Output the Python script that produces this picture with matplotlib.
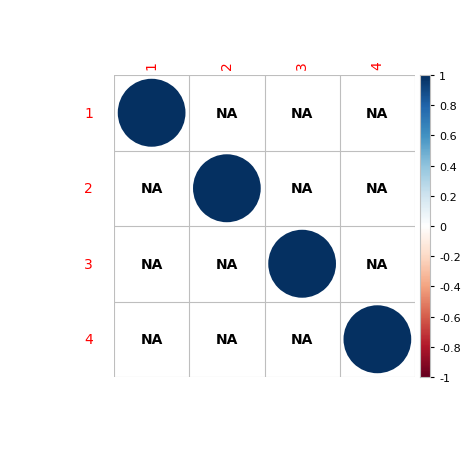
import matplotlib.pyplot as plt
import matplotlib.colors as mcolors
from matplotlib.patches import Circle
import numpy as np

labels = ["1", "2", "3", "4"]
corr = [[1, None, None, None],
        [None, 1, None, None],
        [None, None, 1, None],
        [None, None, None, 1]]
cbar_ticks = [-1, -0.8, -0.6, -0.4, -0.2, 0, 0.2, 0.4, 0.6, 0.8, 1]

colors = ["#67001F", "#B2182B", "#D6604D", "#F4A582", "#FDDBC7", "#FFFFFF",
          "#D1E5F0", "#92C5DE", "#4393C3", "#2166AC", "#053061"]
cmap = mcolors.LinearSegmentedColormap.from_list("corr", colors)

W, H = 474, 460
fig = plt.figure(figsize=(W / 100, H / 100), dpi=100)
x0, x1, y0, y1 = 114, 415, 76, 378
ax = fig.add_axes([x0 / W, 1 - y1 / H, (x1 - x0) / W, (y1 - y0) / H])
n = len(labels)
ax.set_xlim(0, n)
ax.set_ylim(n, 0)
ax.set_aspect("auto")
for s in ax.spines.values():
    s.set_visible(False)
ax.set_xticks([])
ax.set_yticks([])
for k in range(n + 1):
    ax.axvline(k, color="#BEBEBE", lw=0.8)
    ax.axhline(k, color="#BEBEBE", lw=0.8)
for i in range(n):
    for j in range(n):
        v = corr[i][j]
        if v is None:
            ax.text(j + 0.5, i + 0.5, "NA", ha="center", va="center",
                    fontsize=10, fontweight="bold", color="black")
        else:
            ax.add_patch(Circle((j + 0.5, i + 0.5), 0.45 * abs(v),
                                color=cmap((v + 1) / 2), lw=0))
for k, lab in enumerate(labels):
    ax.text(k + 0.5, -0.08, lab, rotation=90, ha="center", va="bottom",
            color="red", fontsize=10, clip_on=False)
    ax.text(-0.28, k + 0.5, lab, ha="right", va="center",
            color="red", fontsize=10, clip_on=False)

cax = fig.add_axes([420 / W, 1 - y1 / H, 10 / W, (y1 - y0) / H])
grad = np.linspace(-1, 1, 200).reshape(-1, 1)
cax.imshow(grad, cmap=cmap, aspect="auto", origin="lower", extent=[0, 1, -1, 1])
cax.set_xticks([])
cax.yaxis.tick_right()
cax.set_yticks(cbar_ticks)
cax.set_yticklabels([f"{t:g}" for t in cbar_ticks], fontsize=8)
cax.tick_params(axis="y", length=3)
for s in cax.spines.values():
    s.set_color("#BEBEBE")

fig.savefig("out.png", dpi=100)
